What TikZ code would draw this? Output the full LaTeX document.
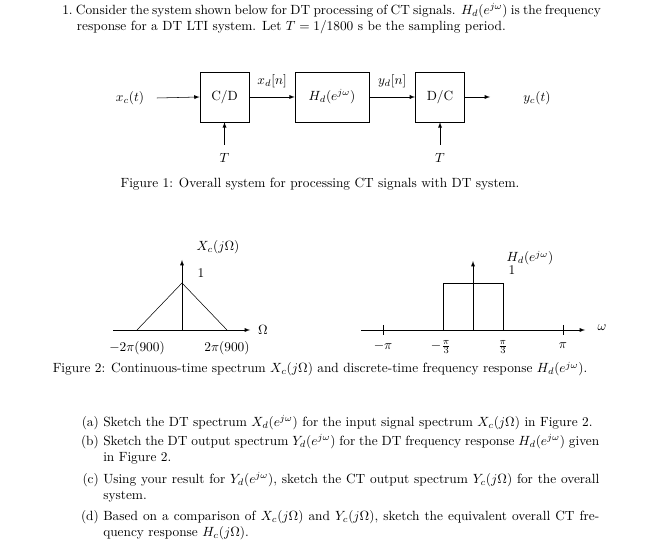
\documentclass[tikz,border=0pt]{standalone}
\usepackage{amsmath}
\tikzset{blk/.style={draw,minimum width=37pt,minimum height=37.5pt,inner sep=0},
 ar/.style={-latex},
 par/.style={anchor=north west,text width=#1,align=justify,inner sep=0}}
\begin{document}
\begin{tikzpicture}[x=0.75pt,y=-0.75pt]
\useasboundingbox (0,0) rectangle (659,555);
\node[par=404pt] (p1) at (62,3) {\hangindent=11pt\hangafter=1 1.\ Consider the system shown below for DT processing of CT signals. $H_d(e^{j\omega})$ is the frequency response for a DT LTI system. Let $T=1/1800$ s be the sampling period.\par};
% block diagram
\node (xc) at (130,98) {$x_c(t)$};
\node[blk] (cd) at (224.5,97) {C/D};
\node[blk,minimum width=55.5pt] (h) at (332,97) {$H_d(e^{j\omega})$};
\node[blk] (dc) at (440,97) {D/C};
\node (yc) at (537,98) {$y_c(t)$};
\draw[ar] (xc.east)++(8,0) coordinate (s0) -- (cd.west);
\draw[ar] (cd) -- node[above=3pt] (xd) {$x_d[n]$} (h);
\draw[ar] (h) -- node[above=3pt] (yd) {$y_d[n]$} (dc);
\draw[ar] (dc) -- ++(50,0) coordinate (e0);
\node (t1) at (224.5,158) {$T$};
\node (t2) at (440,158) {$T$};
\draw[ar] (224.5,145) coordinate (a1) -- (cd.south);
\draw[ar] (440,145) coordinate (a2) -- (dc.south);
\node (f1) at (320,184) {Figure 1: Overall system for processing CT signals with DT system.};
% left spectrum
\coordinate (o1) at (182,330);
\draw[ar] (113,330) -- (250,330);
\node (om) at (263,330) {$\Omega$};
\draw[ar] (o1) -- (182,260);
\draw (137,330) -- (182,283) -- (227,330);
\node (xl) at (218,247) {$X_c(j\Omega)$};
\node (one1) at (201,273) {1};
\node (l1) at (137,348) {$-2\pi(900)$};
\node (l2) at (227,348) {$2\pi(900)$};
% right spectrum
\draw[ar] (361,330) -- (585,330);
\node (w) at (602,328) {$\omega$};
\draw (383,325) -- (383,335) (563,325) -- (563,335);
\draw (443,330) -- (443,283) -- (503,283) -- (503,330);
\draw[ar] (473,330) -- (473,261);
\node (hl) at (530,258) {$H_d(e^{j\omega})$};
\node (one2) at (512,270) {1};
\node (m1) at (383,346) {$-\pi$};
\node (m2) at (441,347) {$-\frac{\pi}{3}$};
\node (m3) at (503,347) {$\frac{\pi}{3}$};
\node (m4) at (563,346) {$\pi$};
\node (f2) at (320,369) {Figure 2: Continuous-time spectrum $X_c(j\Omega)$ and discrete-time frequency response $H_d(e^{j\omega})$.};
% items
\node[par=372pt] (ia) at (103,415) {\llap{(a)\ }Sketch the DT spectrum $X_d(e^{j\omega})$ for the input signal spectrum $X_c(j\Omega)$ in Figure 2.};
\node[par=372pt] (ib) at (103,434) {\llap{(b)\ }Sketch the DT output spectrum $Y_d(e^{j\omega})$ for the DT frequency response $H_d(e^{j\omega})$ given in Figure 2.};
\node[par=372pt] (ic) at (103,472) {\llap{(c)\ }Using your result for $Y_d(e^{j\omega})$, sketch the CT output spectrum $Y_c(j\Omega)$ for the overall system.};
\node[par=372pt] (id) at (103,510) {\llap{(d)\ }Based on a comparison of $X_c(j\Omega)$ and $Y_c(j\Omega)$, sketch the equivalent overall CT frequency response $H_c(j\Omega)$.};
\end{tikzpicture}
\end{document}
